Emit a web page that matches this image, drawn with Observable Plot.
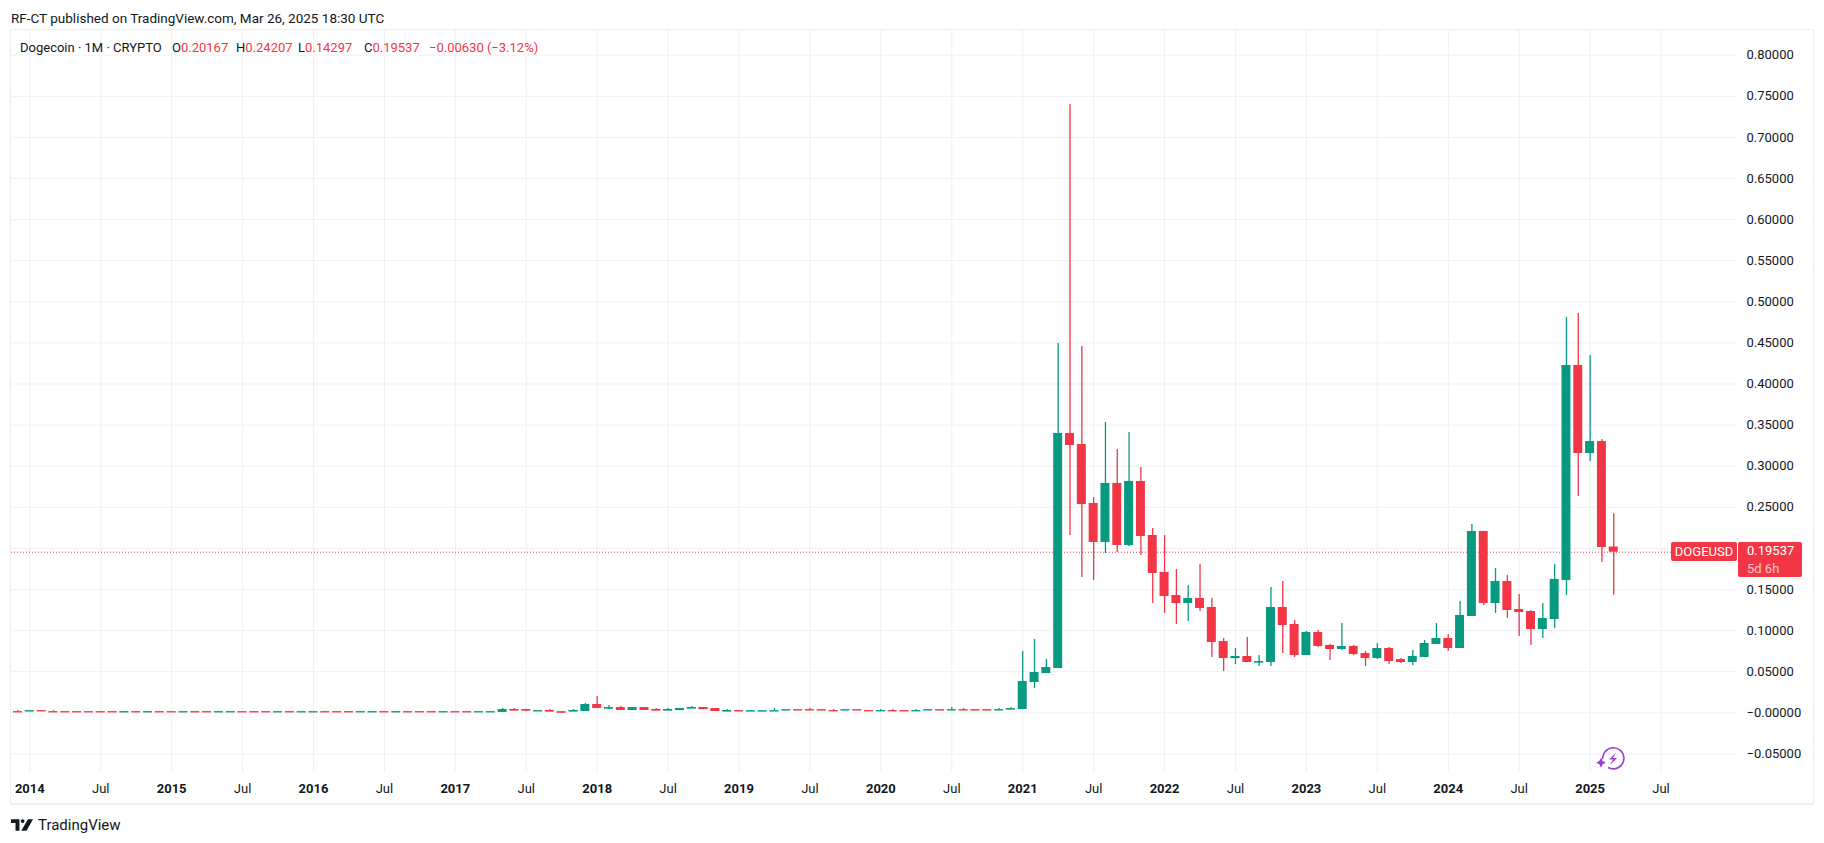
<!DOCTYPE html>
<html>
<head>
<meta charset="utf-8">
<script src="https://cdn.jsdelivr.net/npm/d3@7"></script>
<script src="https://cdn.jsdelivr.net/npm/@observablehq/plot@0.6"></script>
<style>
  html, body { margin: 0; padding: 0; background: #fff; overflow: hidden; }
  body { width: 1824px; height: 843px; position: relative; font-family: Roboto, sans-serif; color: #131722; font-size: 13px; }
  #published { position: absolute; left: 11px; top: 10px; white-space: nowrap; font-size: 13.5px; }
  #box { position: absolute; left: 10px; top: 29px; width: 1802px; height: 773px; border: 1px solid #eceef3; border-bottom-width: 2px; }
  #chart { position: absolute; left: 0; top: 29px; }
  #legend { position: absolute; left: 20px; top: 40px; white-space: nowrap; }
  #legend span { display: inline-block; }
  #legend b { font-weight: 400; color: #f23645; }
  .tag { position: absolute; background: #f23645; color: #fff; white-space: nowrap; border-radius: 2px; }
  #footer { position: absolute; left: 11px; top: 816px; display: flex; align-items: center; font-size: 15px; }
  #badge { position: absolute; left: 1596px; top: 745px; }
</style>
</head>
<body>
<div id="published">RF-CT published on TradingView.com, Mar 26, 2025 18:30 UTC</div>
<div id="box"></div>
<div id="chart"></div>
<div id="legend"><span style="width:152px">Dogecoin · 1M · CRYPTO</span><span style="width:64px">O<b>0.20167</b></span><span style="width:62px">H<b>0.24207</b></span><span style="width:66px">L<b>0.14297</b></span><span style="width:65px">C<b>0.19537</b></span><span><b>−0.00630 (−3.12%)</b></span></div>
<svg id="badge" width="32" height="28" viewBox="0 0 32 28">
  <circle cx="17.3" cy="13.3" r="10.6" fill="none" stroke="#9c3fd0" stroke-width="1.6" stroke-dasharray="56 10.6" transform="rotate(175 17.3 13.3)"/>
  <path d="M20 7.5 13 14.5h4l-3 5.5 7-7h-4z" fill="#9c3fd0"/>
  <path d="M5 12.5 6.6 16.1 10 17.7 6.6 19.3 5 23 3.4 19.3 0 17.7 3.4 16.1z" fill="#9c3fd0"/>
</svg>
<div id="footer">
  <svg width="22" height="12" viewBox="0 0 34 18" style="margin-right:5px"><path d="M0 0H13V18H7V6H0Z M26 0H34L24 18H16Z" fill="#131722"/><circle cx="18" cy="3" r="3" fill="#131722"/></svg>
  TradingView
</div>
<script>
// monthly candles, first bar is Dec 2013
const opens = [.0014,
  .0020,.0026,.0014,.0014,.0014,.0014,.0014,.0014,.0010,.0014,.0010,.0014,
  .0014,.0010,.0014,.0014,.0010,.0010,.0014,.0014,.0014,.0010,.0014,.0010,
  .0010,.0014,.0014,.0014,.0010,.0010,.0014,.0010,.0014,.0014,.0014,.0010,
  .0014,.0014,.0010,.0010,.0004,.0040,.0040,.0020,.0028,.0012,.0016,.0016,
  .0101,.0052,.0064,.0028,.0064,.0040,.0028,.0028,.0052,.0064,.0052,.0016,
  .0028,.0020,.0020,.0020,.0032,.0038,.0038,.0038,.0028,.0032,.0038,.0028,
  .0022,.0028,.0028,.0022,.0032,.0038,.0032,.0038,.0038,.0038,.0032,.0042,
  .0040,.0369,.0478,.0539,.3398,.3264,.2546,.2072,.2790,.2035,.2814,.2157,
  .1707,.1427,.1330,.1391,.1281,.0867,.0661,.0685,.0612,.0612,.1281,.1074,
  .0697,.0977,.0819,.0770,.0807,.0721,.0660,.0782,.0648,.0612,.0673,.0831,
  .0904,.0782,.1171,.2206,.1330,.1597,.1257,.1232,.1013,.1135,.1609,.4225,
  .3154,.3300,.20167]
const closes = [.0010,
  .0026,.0022,.0010,.0010,.0010,.0010,.0010,.0010,.0014,.0010,.0014,.0010,
  .0010,.0014,.0010,.0010,.0014,.0014,.0010,.0010,.0010,.0014,.0010,.0014,
  .0014,.0010,.0010,.0010,.0014,.0014,.0010,.0014,.0010,.0010,.0010,.0014,
  .0010,.0010,.0014,.0014,.0040,.0028,.0028,.0028,.0016,.0004,.0028,.0101,
  .0052,.0064,.0028,.0064,.0028,.0028,.0040,.0052,.0064,.0040,.0016,.0028,
  .0020,.0024,.0024,.0026,.0038,.0032,.0032,.0032,.0022,.0038,.0032,.0022,
  .0028,.0022,.0022,.0028,.0038,.0032,.0038,.0032,.0032,.0032,.0038,.0050,
  .0381,.0490,.0551,.3398,.3252,.2534,.2072,.2790,.2035,.2814,.2145,.1695,
  .1415,.1330,.1391,.1269,.0855,.0661,.0685,.0612,.0624,.1281,.1062,.0697,
  .0977,.0807,.0770,.0807,.0709,.0660,.0782,.0624,.0612,.0685,.0843,.0904,
  .0782,.1184,.2206,.1330,.1597,.1245,.1220,.1013,.1147,.1622,.4225,.3154,
  .3300,.2011,.19537]
const highs = [.0027,
  .0026,.0026,.0028,.0014,.0014,.0014,.0014,.0014,.0014,.0014,.0014,.0014,
  .0014,.0014,.0014,.0014,.0014,.0014,.0014,.0014,.0014,.0014,.0014,.0014,
  .0014,.0014,.0014,.0014,.0014,.0014,.0014,.0014,.0014,.0014,.0014,.0014,
  .0014,.0014,.0014,.0014,.0052,.0052,.0040,.0028,.0040,.0012,.0040,.0113,
  .0198,.0088,.0076,.0064,.0064,.0052,.0052,.0052,.0076,.0064,.0052,.0040,
  .0028,.0026,.0026,.0052,.0038,.0038,.0052,.0038,.0040,.0038,.0038,.0028,
  .0040,.0040,.0028,.0040,.0038,.0038,.0064,.0052,.0038,.0038,.0052,.0064,
  .0746,.0892,.0648,.4493,.7400,.4456,.2619,.3532,.3203,.3410,.2984,.2242,
  .2157,.1743,.1549,.1804,.1391,.0904,.0782,.0916,.0697,.1524,.1597,.1123,
  .0989,.1001,.0831,.1087,.0819,.0746,.0843,.0794,.0660,.0758,.0880,.1087,
  .0952,.1354,.2291,.2206,.1755,.1670,.1439,.1245,.1330,.1804,.4809,.4858,
  .4347,.3325,.24207]
const lows = [.0010,
  .0020,.0022,.0010,.0010,.0010,.0010,.0010,.0010,.0010,.0010,.0010,.0010,
  .0010,.0010,.0010,.0010,.0010,.0010,.0010,.0010,.0010,.0010,.0010,.0010,
  .0010,.0010,.0010,.0010,.0010,.0010,.0010,.0010,.0010,.0010,.0010,.0010,
  .0010,.0010,.0010,.0010,.0004,.0028,.0016,.0020,.0016,.0004,.0016,.0016,
  .0052,.0040,.0028,.0028,.0028,.0028,.0028,.0028,.0052,.0040,.0016,.0016,
  .0020,.0020,.0020,.0020,.0032,.0032,.0032,.0032,.0022,.0032,.0032,.0022,
  .0022,.0022,.0022,.0022,.0032,.0032,.0032,.0032,.0032,.0032,.0032,.0042,
  .0040,.0296,.0478,.0539,.2157,.1646,.1609,.1938,.1950,.2023,.1914,.1330,
  .1208,.1074,.1111,.1232,.0673,.0502,.0588,.0612,.0563,.0563,.0721,.0673,
  .0697,.0794,.0636,.0758,.0697,.0563,.0648,.0587,.0600,.0575,.0673,.0831,
  .0746,.0782,.1171,.1305,.1208,.1147,.0928,.0819,.0904,.1025,.1427,.2631,
  .3057,.1828,.14297]

// x is months since Jan 2014
const yearTicks = [0, 12, 24, 36, 48, 60, 72, 84, 96, 108, 120, 132]
const yearLabels = ["2014", "2015", "2016", "2017", "2018", "2019", "2020", "2021", "2022", "2023", "2024", "2025"]
const julyTicks = [6, 18, 30, 42, 54, 66, 78, 90, 102, 114, 126, 138]
const priceTicks = [-.05, 0, .05, .1, .15, .2, .25, .3, .35, .4, .45, .5, .55, .6, .65, .7, .75, .8]
const lastPrice = 0.19537

const up = "#089981"
const down = "#f23645"

const bars = opens.map((o, k) => ({i: k - 1, open: o, close: closes[k], high: highs[k], low: lows[k]}))
const color = d => d.close >= d.open ? up : down
const thin = bars.filter(d => Math.abs(d.open - d.close) < .0025)

let chart = Plot.plot({
  width: 1824,
  height: 774,
  marginLeft: 11,
  marginRight: 87,
  marginTop: 1,
  marginBottom: 31,
  x: {domain: [-1.548, 144.47]},
  y: {domain: [-.07263, .83005]},
  color: {type: "identity"},
  style: {background: "transparent", fontFamily: "Roboto, sans-serif", fontSize: "13px", color: "#131722", overflow: "visible"},
  marks: [
    Plot.gridX(yearTicks.concat(julyTicks), {stroke: "#eef0f3", strokeOpacity: 1}),
    Plot.gridY(priceTicks, {stroke: "#f0f1f4", strokeOpacity: 1}),
    Plot.ruleY([lastPrice], {stroke: down, strokeDasharray: "1,2", strokeWidth: 1}),
    Plot.ruleX(bars, {x: "i", y1: "low", y2: "high", stroke: color, strokeWidth: 1.3}),
    Plot.rect(bars, {x1: d => d.i - .38, x2: d => d.i + .38, y1: "open", y2: "close", fill: color}),
    Plot.ruleY(thin, {y: d => (d.open + d.close) / 2, x1: d => d.i - .38, x2: d => d.i + .38, stroke: color, strokeWidth: 1.3}),
    Plot.axisY(priceTicks, {
      anchor: "right", tickSize: 0, tickPadding: 9, label: null,
      tickFormat: d => (d <= 0 ? "−" : "") + Math.abs(d).toFixed(5)
    }),
    Plot.axisX(yearTicks, {
      anchor: "bottom", tickSize: 0, tickPadding: 11, label: null, fontWeight: "bold",
      tickFormat: d => yearLabels[yearTicks.indexOf(d)]
    }),
    Plot.axisX(julyTicks, {
      anchor: "bottom", tickSize: 0, tickPadding: 11, label: null,
      tickFormat: () => "Jul"
    })
  ]
})

d3.select("#chart").append(() => chart)

// last price tags sit on the y scale
const priceY = 29 + chart.scale("y").apply(lastPrice)
d3.select("body").append("div").attr("class", "tag")
  .style("left", "1671px").style("top", (priceY - 10) + "px")
  .style("width", "66px").style("height", "19px").style("line-height", "19px").style("text-align", "center")
  .text("DOGEUSD")
const priceTag = d3.select("body").append("div").attr("class", "tag")
  .style("left", "1738px").style("top", (priceY - 10) + "px")
  .style("width", "55px").style("height", "35px").style("padding-left", "9px").style("line-height", "17px")
priceTag.append("div").text("0.19537")
priceTag.append("div").style("opacity", .7).style("margin-top", "1px").text("5d 6h")
</script>
</body>
</html>
